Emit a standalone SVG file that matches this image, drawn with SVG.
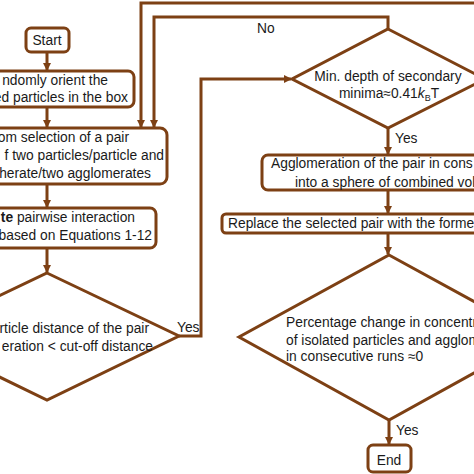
<svg xmlns="http://www.w3.org/2000/svg" width="474" height="474" viewBox="0 0 474 474">
<defs>
<marker id="ah" markerWidth="8" markerHeight="8" refX="7" refY="4" orient="auto" markerUnits="userSpaceOnUse">
<path d="M0,0 L8,4 L0,8 Z" fill="#7d4014"/>
</marker>
<style>
.n{fill:#fff;stroke:#7d4014;stroke-width:3}
.c{fill:none;stroke:#7d4014;stroke-width:3}
.t{font-family:"Liberation Sans",Arial,sans-serif;font-size:13.8px;fill:#1a1a1a}
.m{text-anchor:middle}
.e{text-anchor:end}
</style>
</defs>
<rect width="474" height="474" fill="#fff"/>
<g id="connectors">
<path class="c" d="M47,52 V70" marker-end="url(#ah)"/>
<path class="c" d="M47,107 V127" marker-end="url(#ah)"/>
<path class="c" d="M47,184 V207" marker-end="url(#ah)"/>
<path class="c" d="M47,248 V272" marker-end="url(#ah)"/>
<path class="c" d="M179,336 H201 V79 H291" marker-end="url(#ah)"/>
<path class="c" d="M388,29 V17 H154 V127" marker-end="url(#ah)"/>
<path class="c" d="M480,3 H141 V127" marker-end="url(#ah)"/>
<path class="c" d="M388,128 V154" marker-end="url(#ah)"/>
<path class="c" d="M388,190 V213" marker-end="url(#ah)"/>
<path class="c" d="M388,233 V254" marker-end="url(#ah)"/>
<path class="c" d="M389,420 V444" marker-end="url(#ah)"/>
</g>
<g id="start">
<rect class="n" x="26" y="28" width="43" height="24" rx="5"/>
<text class="t m" x="47" y="45">Start</text>
</g>
<g id="orient">
<rect class="n" x="-60" y="71" width="194" height="36" rx="6"/>
<text class="t e" x="108" y="85">ndomly orient the</text>
<text class="t e" x="128" y="102">ed particles in the box</text>
</g>
<g id="select">
<rect class="n" x="-73" y="128" width="240" height="56" rx="7"/>
<text class="t e" x="129" y="142">om selection of a pair</text>
<text class="t e" x="164" y="160">f two particles/particle and</text>
<text class="t e" x="151" y="178">herate/two agglomerates</text>
</g>
<g id="calc">
<rect class="n" x="-62" y="208" width="218" height="40" rx="6"/>
<text class="t e" x="135" y="222"><tspan font-weight="bold">te</tspan> pairwise interaction</text>
<text class="t e" x="152" y="240">based on Equations 1-12</text>
</g>
<g id="dist">
<polygon class="n" points="47,273 179,336 47,400 -85,336"/>
<text class="t e" x="149" y="333">rticle distance of the pair</text>
<text class="t e" x="153" y="351">eration &lt; cut-off distance</text>
</g>
<g id="depth">
<polygon class="n" points="388,29 485,79 388,128 292,79"/>
<text class="t m" x="388" y="81">Min. depth of secondary</text>
<text class="t m" x="389" y="98">minima≈0.41<tspan font-style="italic">k</tspan><tspan font-size="9px" dy="3">B</tspan><tspan dy="-3">T</tspan></text>
</g>
<g id="agglo">
<rect class="n" x="262" y="155" width="240" height="35" rx="6"/>
<text class="t" x="271" y="168">Agglomeration of the pair in cons</text>
<text class="t" x="295" y="187">into a sphere of combined vol</text>
</g>
<g id="replace">
<rect class="n" x="222" y="214" width="280" height="19" rx="4"/>
<text class="t" x="228" y="228">Replace the selected pair with the forme</text>
</g>
<g id="pct">
<polygon class="n" points="389,255 539,337 389,420 239,337"/>
<text class="t" x="286" y="327">Percentage change in concentr</text>
<text class="t" x="286" y="345">of isolated particles and agglom</text>
<text class="t" x="286" y="361">in consecutive runs ≈0</text>
</g>
<g id="end">
<rect class="n" x="368" y="445" width="43" height="27" rx="5"/>
<text class="t m" x="389" y="465">End</text>
</g>
<g id="labels">
<text class="t" x="177" y="332">Yes</text>
<text class="t" x="257" y="33">No</text>
<text class="t" x="395" y="143">Yes</text>
<text class="t" x="396" y="435">Yes</text>
</g>
</svg>
